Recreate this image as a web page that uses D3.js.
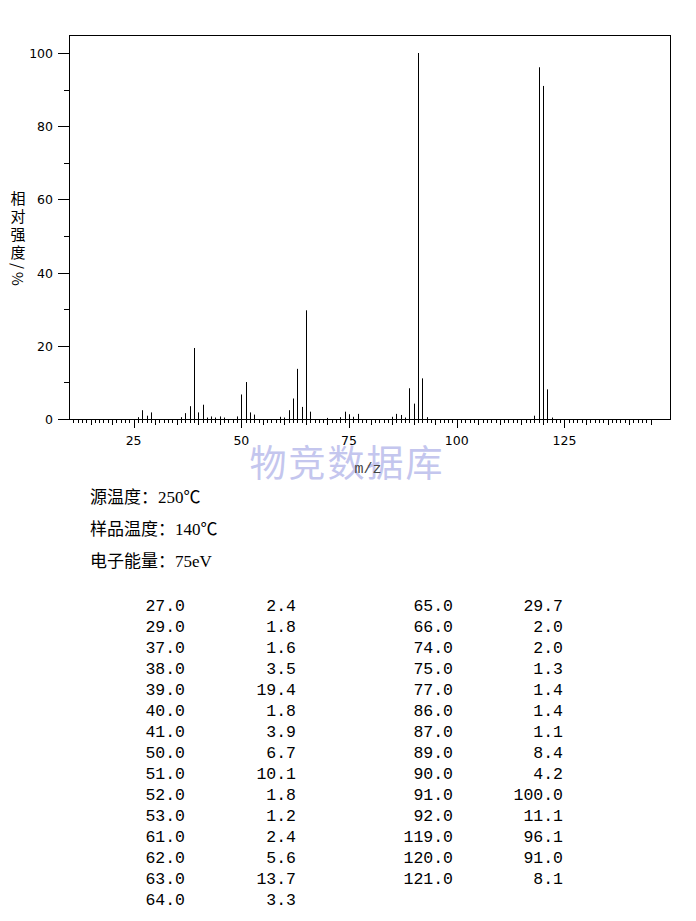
<!DOCTYPE html>
<html>
<head>
<meta charset="utf-8">
<script src="https://cdn.jsdelivr.net/npm/d3@7"></script>
<style>
  html, body { margin: 0; padding: 0; background: #fff; }
  svg { display: block; }
</style>
</head>
<body>
<svg id="chart" width="696" height="921"></svg>
<script>
// Listed peaks (m/z, relative intensity %)
const mz = [27,29,37,38,39,40,41,50,51,52,53,61,62,63,64,65,66,74,75,77,86,87,89,90,91,92,119,120,121];
const intensity = [2.4,1.8,1.6,3.5,19.4,1.8,3.9,6.7,10.1,1.8,1.2,2.4,5.6,13.7,3.3,29.7,2.0,2.0,1.3,1.4,1.4,1.1,8.4,4.2,100.0,11.1,96.1,91.0,8.1];
// Small unlisted peaks visible in the spectrum (estimated)
const minorMz = [26,28,36,42,43,44,45,46,49,59,60,70,73,76,85,88,93,118,122];
const minorIntensity = [0.5,0.9,0.5,0.4,0.7,0.4,0.7,0.4,0.7,0.6,0.4,0.3,0.5,0.6,0.6,0.4,0.5,0.9,0.4];
const yTicks = [0,20,40,60,80,100];
const yMinorTicks = [10,30,50,70,90];
const xTickLabels = [25,50,75,100,125];
const infoLines = ["源温度：250℃","样品温度：140℃","电子能量：75eV"];

const svg = d3.select("#chart");
const L = 69, R = 670, T = 35, B = 419;
const x = d3.scaleLinear().domain([10, 149.5]).range([L, R]);
const y = d3.scaleLinear().domain([0, 100]).range([B, 53]);
const px = v => Math.round(x(v)) + 0.5;

// frame
svg.append("rect").attr("x", L + 0.5).attr("y", T + 0.5)
  .attr("width", R - L).attr("height", B - T)
  .attr("fill", "none").attr("stroke", "#000").attr("stroke-width", 1);

// y ticks
const yAxis = svg.append("g");
yTicks.forEach(v => {
  const yy = Math.round(y(v)) + 0.5;
  yAxis.append("line").attr("x1", L - 11).attr("x2", L).attr("y1", yy).attr("y2", yy).attr("stroke", "#000");
  yAxis.append("text").attr("x", L - 16).attr("y", yy).attr("dy", "0.36em")
    .attr("text-anchor", "end").attr("font-family", "DejaVu Sans").attr("font-size", 12.5)
    .attr("fill", "#000").text(v);
});
yMinorTicks.forEach(v => {
  const yy = Math.round(y(v)) + 0.5;
  yAxis.append("line").attr("x1", L - 5).attr("x2", L).attr("y1", yy).attr("y2", yy).attr("stroke", "#000");
});

// x ticks
const xAxis = svg.append("g");
d3.range(11, 146).forEach(v => {
  const len = v % 25 === 0 ? 9 : (v % 5 === 0 ? 6 : 4);
  xAxis.append("line").attr("x1", px(v)).attr("x2", px(v)).attr("y1", B).attr("y2", B + len).attr("stroke", "#000");
});
xTickLabels.forEach(v => {
  xAxis.append("text").attr("x", x(v)).attr("y", 440).attr("dy", "0.36em")
    .attr("text-anchor", "middle").attr("font-family", "DejaVu Sans").attr("font-size", 12.5)
    .attr("fill", "#000").text(v);
});

// peaks
const peaks = svg.append("g");
minorMz.forEach((m, i) => {
  peaks.append("line").attr("x1", px(m)).attr("x2", px(m))
    .attr("y1", B).attr("y2", y(minorIntensity[i])).attr("stroke", "#000").attr("stroke-width", 1);
});
mz.forEach((m, i) => {
  peaks.append("line").attr("x1", px(m)).attr("x2", px(m))
    .attr("y1", B).attr("y2", y(intensity[i])).attr("stroke", "#000").attr("stroke-width", 1);
});

// y label (vertical writing)
svg.append("text").attr("x", 18).attr("y", 191)
  .style("writing-mode", "vertical-rl")
  .attr("font-family", "Noto Sans CJK SC").attr("font-size", 15).attr("letter-spacing", 3)
  .attr("fill", "#000").text("相对强度/%");

// watermark
svg.append("text").attr("x", 347).attr("y", 464).attr("dy", "0.36em").attr("text-anchor", "middle")
  .attr("font-family", "Noto Sans CJK SC").attr("font-size", 37).attr("fill", "#c4c6ee")
  .attr("letter-spacing", 2).text("物竞数据库");

// x label
svg.append("text").attr("x", 368).attr("y", 468).attr("dy", "0.36em").attr("text-anchor", "middle")
  .attr("font-family", "Liberation Mono").attr("font-size", 15).attr("fill", "#444").text("m/z");

// info lines
infoLines.forEach((t, i) => {
  svg.append("text").attr("x", 90).attr("y", 497 + i * 32).attr("dy", "0.36em")
    .attr("font-family", "Liberation Serif, Noto Sans CJK SC").attr("font-size", 17)
    .attr("fill", "#000").text(t);
});

// data table
const table = svg.append("g").attr("font-family", "Liberation Mono").attr("font-size", 16.5).attr("fill", "#000");
const nLeft = 15;
mz.forEach((m, i) => {
  const col = i < nLeft ? 0 : 1;
  const row = col === 0 ? i : i - nLeft;
  const yy = 605 + row * 21;
  const xm = col === 0 ? 185 : 453;
  const xi = col === 0 ? 296 : 563;
  table.append("text").attr("x", xm).attr("y", yy).attr("dy", "0.36em").attr("text-anchor", "end").text(m.toFixed(1));
  table.append("text").attr("x", xi).attr("y", yy).attr("dy", "0.36em").attr("text-anchor", "end").text(intensity[i].toFixed(1));
});
</script>
</body>
</html>
